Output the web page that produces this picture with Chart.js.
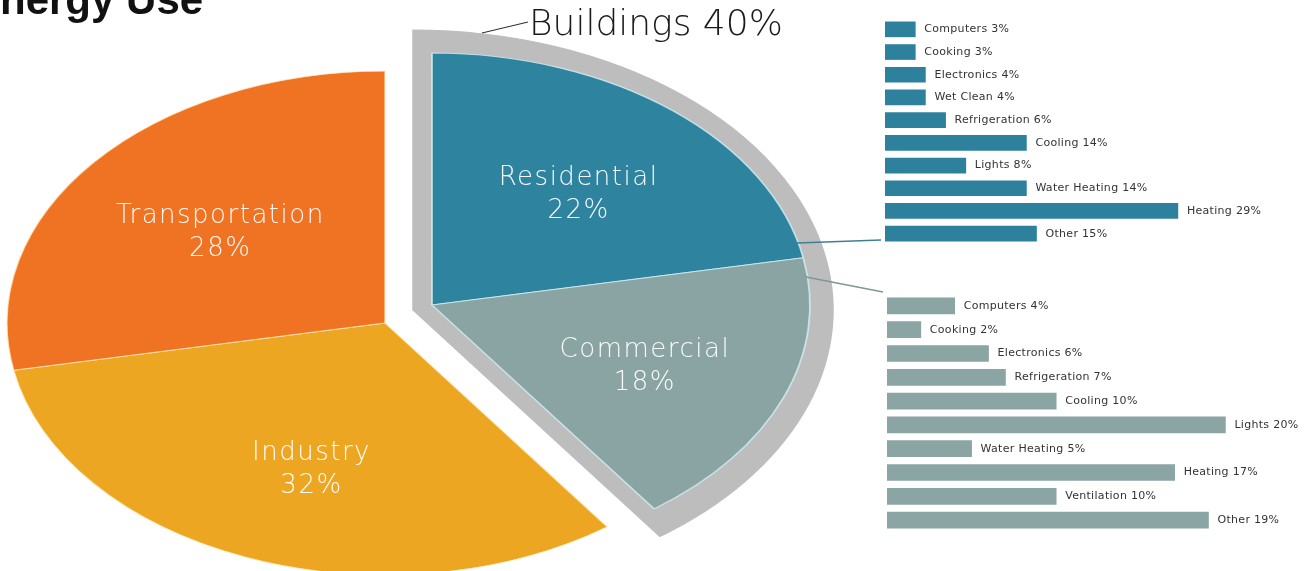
<!DOCTYPE html>
<html>
<head>
<meta charset="utf-8">
<script src="https://cdn.jsdelivr.net/npm/chart.js@4.4.1/dist/chart.umd.min.js"></script>
<style>
  html, body { margin: 0; padding: 0; background: #fff; overflow: hidden; }
  #wrap { position: relative; width: 1311px; height: 571px; }
  #wrap canvas { position: absolute; left: 0; top: 0; }
</style>
</head>
<body>
<div id="wrap">
  <canvas id="basePie" width="1311" height="571"></canvas>
  <canvas id="ringPie" width="1311" height="571"></canvas>
  <canvas id="buildPie" width="1311" height="571"></canvas>
  <canvas id="resBars" width="1311" height="571"></canvas>
  <canvas id="comBars" width="1311" height="571"></canvas>
</div>
<script>
// data
const sectors = ["Residential", "Commercial", "Industry", "Transportation"];
const sectorShares = [22, 18, 32, 28];
const sectorColors = ["#2e839f", "#8aa3a3", "#eca622", "#f07324"];

const resUses = ["Computers", "Cooking", "Electronics", "Wet Clean", "Refrigeration",
  "Cooling", "Lights", "Water Heating", "Heating", "Other"];
const resShares = [3, 3, 4, 4, 6, 14, 8, 14, 29, 15];

const comUses = ["Computers", "Cooking", "Electronics", "Refrigeration", "Cooling",
  "Lights", "Water Heating", "Heating", "Ventilation", "Other"];
const comShares = [4, 2, 6, 7, 10, 20, 5, 17, 10, 19];

const title = "Energy Use";
const buildingsLabel = "Buildings 40%";

const W = 1311, H = 571;
const SX = 1.5; // pie is drawn as a wide ellipse
const NONE = "rgba(0,0,0,0)";
const RING = "#bdbdbd";

// stretch the arcs horizontally around the pie centre
const stretch = {
  id: "stretch",
  beforeDatasetsDraw(chart) {
    const arc = chart.getDatasetMeta(0).data[0];
    const ctx = chart.ctx;
    ctx.save();
    ctx.translate(arc.x, arc.y);
    ctx.scale(SX, 1);
    ctx.translate(-arc.x, -arc.y);
  },
  afterDatasetsDraw(chart) {
    chart.ctx.restore();
  }
};

const sliceLabels = {
  id: "sliceLabels",
  afterDraw(chart, args, opts) {
    if (!opts.show) return;
    const ctx = chart.ctx;
    chart.getDatasetMeta(0).data.forEach((arc, i) => {
      if (!opts.show[i]) return;
      const mid = (arc.startAngle + arc.endAngle) / 2;
      const r = arc.outerRadius * 0.6;
      const x = arc.x + Math.cos(mid) * r * SX + opts.dx;
      const y = arc.y + Math.sin(mid) * r + 6;
      ctx.save();
      ctx.fillStyle = "rgba(255,255,255,0.95)";
      ctx.font = '200 26px "DejaVu Sans"';
      ctx.letterSpacing = "1.5px";
      ctx.textAlign = "center";
      ctx.textBaseline = "middle";
      ctx.fillText(sectors[i], x, y - 16);
      ctx.fillText(sectorShares[i] + "%", x, y + 17);
      ctx.restore();
    });
  }
};

function makePie(id, colors, borders, borderWidth, radius, cx, cy, show, dx) {
  const hw = Math.min(cx, W - cx);
  const hh = Math.min(cy, H - cy);
  return new Chart(document.getElementById(id), {
    type: "pie",
    data: {
      labels: sectors,
      datasets: [{
        data: sectorShares,
        backgroundColor: colors,
        borderColor: borders,
        borderWidth: borderWidth,
        radius: radius,
        clip: false
      }]
    },
    options: {
      responsive: false,
      animation: false,
      events: [],
      layout: { padding: { left: cx - hw, right: W - cx - hw, top: cy - hh, bottom: H - cy - hh } },
      plugins: {
        legend: { display: false },
        tooltip: { enabled: false },
        sliceLabels: { show: show, dx: dx || 0 }
      }
    },
    plugins: [stretch, sliceLabels]
  });
}

// Transportation + Industry
makePie("basePie",
  [NONE, NONE, sectorColors[2], sectorColors[3]],
  [NONE, NONE, "rgba(255,240,200,0.7)", "rgba(255,240,200,0.7)"], 1,
  252, 385, 323, [false, false, true, true], 10);

// grey frame behind the buildings wedge
makePie("ringPie",
  [RING, RING, NONE, NONE],
  [RING, RING, NONE, NONE], 1,
  280, 413, 310, null);

// Residential + Commercial, pulled out
makePie("buildPie",
  [sectorColors[0], sectorColors[1], NONE, NONE],
  ["rgba(210,240,245,0.8)", "rgba(210,240,245,0.8)", NONE, NONE], 1.2,
  252, 432, 305, [true, true, false, false], 2);

const barLabels = {
  id: "barLabels",
  afterDatasetsDraw(chart) {
    const ctx = chart.ctx;
    const labels = chart.data.labels;
    const values = chart.data.datasets[0].data;
    ctx.save();
    ctx.fillStyle = "#333";
    ctx.font = '11px "DejaVu Sans"';
    ctx.letterSpacing = "0.3px";
    ctx.textBaseline = "middle";
    chart.getDatasetMeta(0).data.forEach((bar, i) => {
      ctx.fillText(labels[i] + " " + values[i] + "%", bar.x + 9, bar.y);
    });
    ctx.restore();
  }
};

const decorations = {
  id: "decorations",
  afterDraw(chart) {
    const ctx = chart.ctx;
    ctx.save();
    // cropped title
    ctx.fillStyle = "#111";
    ctx.font = 'bold 42px "Liberation Sans"';
    ctx.textBaseline = "alphabetic";
    ctx.fillText(title, -28, 14);
    // buildings label + leader
    ctx.fillStyle = "#1a1a1a";
    ctx.font = '300 36px "DejaVu Sans"';
    ctx.fillText(buildingsLabel, 529, 35);
    ctx.strokeStyle = "#333";
    ctx.lineWidth = 1.2;
    ctx.beginPath();
    ctx.moveTo(482, 33);
    ctx.lineTo(528, 22);
    ctx.stroke();
    // connectors to the breakdowns
    ctx.lineWidth = 1.3;
    ctx.strokeStyle = "#3f7f92";
    ctx.beginPath();
    ctx.moveTo(797, 243);
    ctx.lineTo(881, 240);
    ctx.stroke();
    ctx.strokeStyle = "#7f9798";
    ctx.beginPath();
    ctx.moveTo(806, 277);
    ctx.lineTo(883, 292);
    ctx.stroke();
    ctx.restore();
  }
};

function makeBars(id, labels, values, color, left, right, top, bottom, max, thickness, extra) {
  return new Chart(document.getElementById(id), {
    type: "bar",
    data: {
      labels: labels,
      datasets: [{ data: values, backgroundColor: color, barThickness: thickness }]
    },
    options: {
      indexAxis: "y",
      responsive: false,
      animation: false,
      events: [],
      layout: { padding: { left: left, right: W - right, top: top, bottom: H - bottom } },
      scales: {
        x: { display: false, min: 0, max: max },
        y: { display: false }
      },
      plugins: { legend: { display: false }, tooltip: { enabled: false } }
    },
    plugins: extra
  });
}

makeBars("resBars", resUses, resShares, "#2e819d", 885, 1289, 18, 245, 40, 15, [barLabels]);
makeBars("comBars", comUses, comShares, "#8ba4a4", 887, 1310, 294, 532, 25, 16, [barLabels, decorations]);
</script>
</body>
</html>
